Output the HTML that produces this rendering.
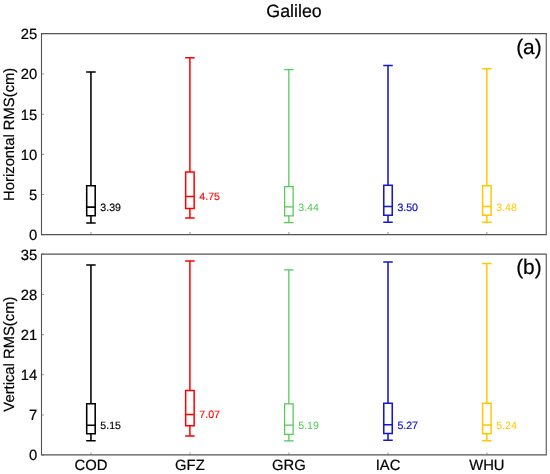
<!DOCTYPE html>
<html lang="en"><head><meta charset="utf-8"><title>Galileo</title>
<style>html,body{margin:0;padding:0;background:#fff}body{width:550px;height:474px;overflow:hidden}</style></head>
<body>
<svg width="550" height="474" viewBox="0 0 550 474" style="display:block">
<rect width="550" height="474" fill="#fff"/>
<g font-family="'Liberation Sans', sans-serif" fill="#000" stroke="#000" stroke-width="0.2" text-rendering="geometricPrecision">
<line x1="42.0" x2="44.0" y1="234.75" y2="234.75" stroke="#545454" stroke-width="1.1" opacity="0.55"/>
<text x="37.2" y="240.10" font-size="14.8" text-anchor="end">0</text>
<line x1="42.0" x2="44.0" y1="194.56" y2="194.56" stroke="#545454" stroke-width="1.1" opacity="0.55"/>
<text x="37.2" y="199.91" font-size="14.8" text-anchor="end">5</text>
<line x1="42.0" x2="44.0" y1="154.37" y2="154.37" stroke="#545454" stroke-width="1.1" opacity="0.55"/>
<text x="37.2" y="159.72" font-size="14.8" text-anchor="end">10</text>
<line x1="42.0" x2="44.0" y1="114.18" y2="114.18" stroke="#545454" stroke-width="1.1" opacity="0.55"/>
<text x="37.2" y="119.53" font-size="14.8" text-anchor="end">15</text>
<line x1="42.0" x2="44.0" y1="73.99" y2="73.99" stroke="#545454" stroke-width="1.1" opacity="0.55"/>
<text x="37.2" y="79.34" font-size="14.8" text-anchor="end">20</text>
<line x1="42.0" x2="44.0" y1="33.80" y2="33.80" stroke="#545454" stroke-width="1.1" opacity="0.55"/>
<text x="37.2" y="39.15" font-size="14.8" text-anchor="end">25</text>
<line x1="90.95" x2="90.95" y1="234.05" y2="232.05" stroke="#545454" stroke-width="1.1" opacity="0.55"/>
<line x1="189.9" x2="189.9" y1="234.05" y2="232.05" stroke="#545454" stroke-width="1.1" opacity="0.55"/>
<line x1="288.85" x2="288.85" y1="234.05" y2="232.05" stroke="#545454" stroke-width="1.1" opacity="0.55"/>
<line x1="388.0" x2="388.0" y1="234.05" y2="232.05" stroke="#545454" stroke-width="1.1" opacity="0.55"/>
<line x1="486.85" x2="486.85" y1="234.05" y2="232.05" stroke="#545454" stroke-width="1.1" opacity="0.55"/>
<g stroke="#000000" stroke-width="1.55" fill="none">
<path d="M86.20 72.0H95.70M90.95 72.0V185.7M86.70 185.7H95.20V215.75H86.70ZM86.70 207.1H95.20M90.95 215.75V223.0M86.20 223.0H95.70"/>
</g>
<text x="100.35" y="211" font-size="10.6" fill="#000000" stroke="#000000" stroke-width="0.15">3.39</text>
<g stroke="#ff0000" stroke-width="1.5" fill="none">
<path d="M185.15 57.8H194.65M189.9 57.8V171.9M185.65 171.9H194.15V208.4H185.65ZM185.65 196.5H194.15M189.9 208.4V218.0M185.15 218.0H194.65"/>
</g>
<text x="199.30" y="200" font-size="10.6" fill="#ff0000" stroke="#ff0000" stroke-width="0.1">4.75</text>
<g stroke="#55c855" stroke-width="1.25" fill="none">
<path d="M284.10 69.5H293.60M288.85 69.5V186.5M284.60 186.5H293.10V215.8H284.60ZM284.60 206.9H293.10M288.85 215.8V222.6M284.10 222.6H293.60"/>
</g>
<text x="298.25" y="211" font-size="10.6" fill="#55c855" stroke="#55c855" stroke-width="0.0">3.44</text>
<g stroke="#1616d0" stroke-width="1.55" fill="none">
<path d="M383.25 65.4H392.75M388.0 65.4V185.3M383.75 185.3H392.25V215.2H383.75ZM383.75 206.5H392.25M388.0 215.2V222.2M383.25 222.2H392.75"/>
</g>
<text x="397.40" y="211" font-size="10.6" fill="#1616d0" stroke="#1616d0" stroke-width="0.22">3.50</text>
<g stroke="#ffc800" stroke-width="1.5" fill="none">
<path d="M482.10 68.7H491.60M486.85 68.7V185.7M482.60 185.7H491.10V215.2H482.60ZM482.60 206.6H491.10M486.85 215.2V222.2M482.10 222.2H491.60"/>
</g>
<text x="496.25" y="211" font-size="10.6" fill="#ffc800" stroke="#ffc800" stroke-width="0.0">3.48</text>
<path d="M40.95 33.6H546.95" fill="none" stroke="#545454" stroke-width="1.15"/>
<path d="M40.95 234.55H546.95" fill="none" stroke="#545454" stroke-width="1.15"/>
<path d="M41.5 33.6V234.55" fill="none" stroke="#545454" stroke-width="1.1"/>
<path d="M546.3 33.6V234.55" fill="none" stroke="#6e6e6e" stroke-width="1.3"/>
<text x="541.7" y="53.80" font-size="20.9" text-anchor="end">(a)</text>
<line x1="42.0" x2="44.0" y1="455.08" y2="455.08" stroke="#545454" stroke-width="1.1" opacity="0.55"/>
<text x="37.2" y="460.43" font-size="14.8" text-anchor="end">0</text>
<line x1="42.0" x2="44.0" y1="414.93" y2="414.93" stroke="#545454" stroke-width="1.1" opacity="0.55"/>
<text x="37.2" y="420.28" font-size="14.8" text-anchor="end">7</text>
<line x1="42.0" x2="44.0" y1="374.79" y2="374.79" stroke="#545454" stroke-width="1.1" opacity="0.55"/>
<text x="37.2" y="380.14" font-size="14.8" text-anchor="end">14</text>
<line x1="42.0" x2="44.0" y1="334.64" y2="334.64" stroke="#545454" stroke-width="1.1" opacity="0.55"/>
<text x="37.2" y="339.99" font-size="14.8" text-anchor="end">21</text>
<line x1="42.0" x2="44.0" y1="294.50" y2="294.50" stroke="#545454" stroke-width="1.1" opacity="0.55"/>
<text x="37.2" y="299.85" font-size="14.8" text-anchor="end">28</text>
<line x1="42.0" x2="44.0" y1="254.35" y2="254.35" stroke="#545454" stroke-width="1.1" opacity="0.55"/>
<text x="37.2" y="259.70" font-size="14.8" text-anchor="end">35</text>
<line x1="90.95" x2="90.95" y1="454.38" y2="452.38" stroke="#545454" stroke-width="1.1" opacity="0.55"/>
<line x1="189.9" x2="189.9" y1="454.38" y2="452.38" stroke="#545454" stroke-width="1.1" opacity="0.55"/>
<line x1="288.85" x2="288.85" y1="454.38" y2="452.38" stroke="#545454" stroke-width="1.1" opacity="0.55"/>
<line x1="388.0" x2="388.0" y1="454.38" y2="452.38" stroke="#545454" stroke-width="1.1" opacity="0.55"/>
<line x1="486.85" x2="486.85" y1="454.38" y2="452.38" stroke="#545454" stroke-width="1.1" opacity="0.55"/>
<g stroke="#000000" stroke-width="1.55" fill="none">
<path d="M86.20 265.0H95.70M90.95 265.0V403.8M86.70 403.8H95.20V433.7H86.70ZM86.70 425.3H95.20M90.95 433.7V440.7M86.20 440.7H95.70"/>
</g>
<text x="100.35" y="429" font-size="10.6" fill="#000000" stroke="#000000" stroke-width="0.15">5.15</text>
<g stroke="#ff0000" stroke-width="1.5" fill="none">
<path d="M185.15 261.1H194.65M189.9 261.1V390.6M185.65 390.6H194.15V425.7H185.65ZM185.65 414.4H194.15M189.9 425.7V435.9M185.15 435.9H194.65"/>
</g>
<text x="199.30" y="418" font-size="10.6" fill="#ff0000" stroke="#ff0000" stroke-width="0.1">7.07</text>
<g stroke="#55c855" stroke-width="1.25" fill="none">
<path d="M284.10 269.9H293.60M288.85 269.9V403.85M284.60 403.85H293.10V434.4H284.60ZM284.60 425.2H293.10M288.85 434.4V440.75M284.10 440.75H293.60"/>
</g>
<text x="298.25" y="429" font-size="10.6" fill="#55c855" stroke="#55c855" stroke-width="0.0">5.19</text>
<g stroke="#1616d0" stroke-width="1.55" fill="none">
<path d="M383.25 261.9H392.75M388.0 261.9V403.3M383.75 403.3H392.25V433.4H383.75ZM383.75 424.8H392.25M388.0 433.4V440.2M383.25 440.2H392.75"/>
</g>
<text x="397.40" y="429" font-size="10.6" fill="#1616d0" stroke="#1616d0" stroke-width="0.22">5.27</text>
<g stroke="#ffc800" stroke-width="1.5" fill="none">
<path d="M482.10 263.4H491.60M486.85 263.4V403.3M482.60 403.3H491.10V433.7H482.60ZM482.60 424.9H491.10M486.85 433.7V440.75M482.10 440.75H491.60"/>
</g>
<text x="496.25" y="429" font-size="10.6" fill="#ffc800" stroke="#ffc800" stroke-width="0.0">5.24</text>
<path d="M40.95 254.15H546.95" fill="none" stroke="#545454" stroke-width="1.35"/>
<path d="M40.95 454.88H546.95" fill="none" stroke="#545454" stroke-width="1.45"/>
<path d="M41.5 254.15V454.88" fill="none" stroke="#545454" stroke-width="1.1"/>
<path d="M546.3 254.15V454.88" fill="none" stroke="#6e6e6e" stroke-width="1.3"/>
<text x="541.7" y="274.35" font-size="20.9" text-anchor="end">(b)</text>
<text x="90.95" y="470.2" font-size="14.8" text-anchor="middle">COD</text>
<text x="189.9" y="470.2" font-size="14.8" text-anchor="middle">GFZ</text>
<text x="288.85" y="470.2" font-size="14.8" text-anchor="middle">GRG</text>
<text x="388.0" y="470.2" font-size="14.8" text-anchor="middle">IAC</text>
<text x="486.85" y="470.2" font-size="14.8" text-anchor="middle">WHU</text>
<text x="294" y="17.4" font-size="17.8" text-anchor="middle">Galileo</text>
<text transform="translate(14.3 134.3) rotate(-90)" font-size="14.8" text-anchor="middle">Horizontal RMS(cm)</text>
<text transform="translate(14.3 354.1) rotate(-90)" font-size="14.8" text-anchor="middle">Vertical RMS(cm)</text>
</g></svg>
</body></html>
